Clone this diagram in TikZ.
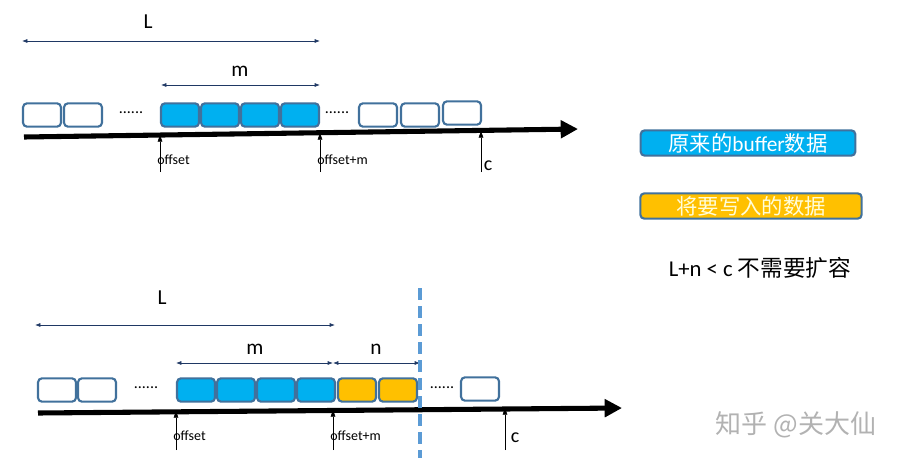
\documentclass[tikz,border=0pt]{standalone}
\usepackage{fontspec}
\setmainfont{Carlito}
\newfontfamily\cjk{Noto Sans CJK SC}
\usetikzlibrary{arrows.meta}
\definecolor{cellline}{HTML}{41719C}
\definecolor{bufblue}{HTML}{00B0F0}
\definecolor{neworange}{HTML}{FFC000}
\definecolor{dimnavy}{HTML}{1F3864}
\definecolor{limitblue}{HTML}{5B9BD5}
\tikzset{
  cell/.style={draw=cellline,line width=1.6pt,rounded corners=3pt,fill=white,
    minimum width=28.5pt,minimum height=17.5pt,inner sep=0pt},
  bufcell/.style={cell,fill=bufblue},
  newcell/.style={cell,fill=neworange},
  dimline/.style={{Latex[length=4pt,width=3pt]}-{Latex[length=4pt,width=3pt]},dimnavy,line width=0.5pt},
  axisline/.style={-{Triangle[length=13pt,width=13pt]},line width=3.8pt},
  tickline/.style={-{Triangle[length=5pt,width=3.5pt]},line width=0.5pt},
  ticklabel/.style={font=\fontsize{10.5}{11}\selectfont,anchor=west,inner sep=0pt},
  dimlabel/.style={font=\fontsize{16}{17}\selectfont,inner sep=0pt},
  clabel/.style={font=\fontsize{15}{15}\selectfont,inner sep=0pt},
  dots/.style={font=\fontsize{12}{12}\selectfont,inner sep=0pt},
  legend/.style={draw=cellline,line width=1.6pt,rounded corners=3pt,
    minimum height=19pt,inner sep=0pt,font=\cjk\fontsize{16}{17}\selectfont}
}
\begin{document}
\begin{tikzpicture}[x=0.75pt,y=-0.75pt]
  \useasboundingbox (0,0) rectangle (903,461);

  % upper case: buffer data only
  \foreach \x [count=\k] in {42,83}
    \node[cell] (a\k) at (\x,115) {};
  \node[dots] (ad1) at (131,113) {......};
  \foreach \x [count=\k] in {180,220,260,300}
    \node[bufcell] (ab\k) at (\x,115) {};
  \node[dots] (ad2) at (337,113) {......};
  \node[cell] (ar1) at (378,115) {};
  \node[cell] (ar2) at (420,115) {};
  \node[cell] (ar3) at (462,113) {};

  \coordinate (aL1) at (22,41);
  \coordinate (aL2) at (320,41);
  \draw[dimline] (aL1) -- (aL2);
  \node[dimlabel] (aLt) at (148,22) {L};
  \coordinate (am1) at (161,85);
  \coordinate (am2) at (320,85);
  \draw[dimline] (am1) -- (am2);
  \node[dimlabel] (amt) at (240,71) {m};

  \coordinate (aax1) at (24,137);
  \coordinate (aax2) at (578,129);
  \draw[axisline] (aax1) -- (aax2);

  \coordinate (at1) at (160,172);
  \coordinate (at1e) at (160,135);
  \coordinate (at2) at (320,172);
  \coordinate (at2e) at (320,133);
  \coordinate (at3) at (481,172);
  \coordinate (at3e) at (481,131);
  \draw[tickline] (at1) -- (at1e);
  \draw[tickline] (at2) -- (at2e);
  \draw[tickline] (at3) -- (at3e);
  \node[ticklabel] (ao) at (157,160) {offset};
  \node[ticklabel] (aom) at (317,160) {offset+m};
  \node[clabel] (ac) at (488,166) {c};

  % lower case: new data appended
  \foreach \x [count=\k] in {57,97}
    \node[cell] (b\k) at (\x,390) {};
  \node[dots] (bd1) at (146,388) {......};
  \foreach \x [count=\k] in {196,236,276,316}
    \node[bufcell] (bb\k) at (\x,390) {};
  \foreach \x [count=\k] in {357,398}
    \node[newcell] (bn\k) at (\x,390) {};
  \node[dots] (bd2) at (442,388) {......};
  \node[cell] (br1) at (480,389) {};

  \coordinate (bL1) at (35,325);
  \coordinate (bL2) at (335,325);
  \draw[dimline] (bL1) -- (bL2);
  \node[dimlabel] (bLt) at (162,298) {L};
  \coordinate (bm1) at (176,363);
  \coordinate (bm2) at (333,363);
  \coordinate (bn2) at (420,363);
  \draw[dimline] (bm1) -- (bm2);
  \draw[dimline] (bm2) -- (bn2);
  \node[dimlabel] (bmt) at (255,349) {m};
  \node[dimlabel] (bnt) at (376,349) {n};

  \coordinate (bax1) at (38,413);
  \coordinate (bax2) at (622,408);
  \draw[axisline] (bax1) -- (bax2);

  \coordinate (bc1) at (420,288);
  \coordinate (bc2) at (420,458);
  \draw[limitblue,line width=3.5pt,dash pattern=on 9pt off 4.5pt] (bc1) -- (bc2);

  \coordinate (bt1) at (176,450);
  \coordinate (bt1e) at (176,411);
  \coordinate (bt2) at (333,450);
  \coordinate (bt2e) at (333,410);
  \coordinate (bt3) at (505,450);
  \coordinate (bt3e) at (505,408);
  \draw[tickline] (bt1) -- (bt1e);
  \draw[tickline] (bt2) -- (bt2e);
  \draw[tickline] (bt3) -- (bt3e);
  \node[ticklabel] (bo) at (173,436) {offset};
  \node[ticklabel] (bom) at (330,436) {offset+m};
  \node[clabel] (bc) at (515,438) {c};

  % legend
  \node[legend,fill=bufblue,text=white,minimum width=161pt] (lbuf) at (748,143)
    {原来的{\fontspec{Carlito}buffer}数据};
  \node[legend,fill=neworange,text=white!85!yellow,minimum width=166pt] (lnew) at (751,206)
    {将要写入的数据};
  \node[font=\fontsize{17}{18}\selectfont,inner sep=0pt] (cond) at (760,268)
    {L+n < c {\cjk 不需要扩容}};
  \node[font=\cjk\fontsize{19.5}{20}\selectfont,text=black!30,inner sep=0pt] (mark) at (796,425)
    {知乎 @关大仙};
\end{tikzpicture}
\end{document}
